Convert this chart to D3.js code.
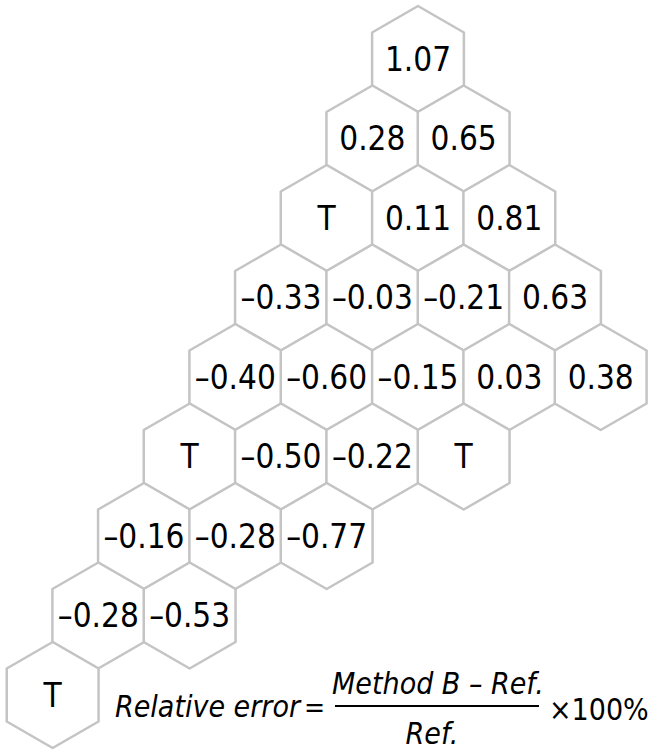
<!DOCTYPE html>
<html>
<head>
<meta charset="utf-8">
<script src="https://cdn.jsdelivr.net/npm/d3@7"></script>
<style>
  body { margin: 0; background: #fff; }
  svg { display: block; }
  .cell-label { font-family: "DejaVu Sans Condensed", "DejaVu Sans", sans-serif; font-stretch: condensed; }
  .formula { font-family: "DejaVu Sans Condensed", "DejaVu Sans", sans-serif; font-stretch: condensed; font-style: italic; }
</style>
</head>
<body>
<script>
// one array per row of the triangle, top to bottom ("T" marks a T cell)
var row1 = [1.07];
var row2 = [0.28, 0.65];
var row3 = ["T", 0.11, 0.81];
var row4 = [-0.33, -0.03, -0.21, 0.63];
var row5 = [-0.40, -0.60, -0.15, 0.03, 0.38];
var row6 = ["T", -0.50, -0.22, "T"];
var row7 = [-0.16, -0.28, -0.77];
var row8 = [-0.28, -0.53];
var row9 = ["T"];

var rows = [row1, row2, row3, row4, row5, row6, row7, row8, row9];

var width = 655, height = 755;
var R = 53;                       // hexagon radius (pointy top)
var hexW = Math.sqrt(3) * R;

// flatten rows into cells
var cells = [];
rows.forEach(function(r, i){
	r.forEach(function(v, j){
		cells.push({row: i, col: j, value: v});
	});
});

// x runs along the columns, each row shifted half a cell to the left
var xScale = d3.scaleLinear()
	.domain([0, 1])
	.range([418, 418 + hexW * 0.995]);

var yScale = d3.scaleLinear()
	.domain([0, 1])
	.range([59, 59 + 1.5 * R]);

var fmt = d3.formatLocale({decimal: ".", thousands: ",", grouping: [3], currency: ["", ""], minus: "\u2013"}).format(".2f");

var hexPts = d3.range(6).map(function(k){
	var a = Math.PI / 180 * (60 * k - 90);
	return [R * Math.cos(a), R * Math.sin(a)];
});
var hexPath = "M" + hexPts.map(function(p){ return p.join(","); }).join("L") + "Z";

var svg = d3.select("body").append("svg")
	.attr("width", width)
	.attr("height", height);

var g = svg.append("g")
	.selectAll("g")
	.data(cells)
	.enter().append("g")
	.attr("transform", function(d){
		return "translate(" + xScale(d.col - d.row / 2) + "," + yScale(d.row) + ")";
	});

g.append("path")
	.attr("d", hexPath)
	.attr("fill", "#fff")
	.attr("stroke", "#c4c4c4")
	.attr("stroke-width", 2.5)
	.attr("stroke-linejoin", "round");

g.append("text")
	.attr("class", "cell-label")
	.attr("text-anchor", "middle")
	.attr("dy", "0.36em")
	.attr("font-size", 33)
	.attr("fill", "#000")
	.text(function(d){ return d.value === "T" ? "T" : fmt(d.value); });

// formula under the triangle
var f = svg.append("g").attr("class", "formula").attr("font-size", 30).attr("fill", "#000");

f.append("text")
	.attr("x", 115).attr("y", 717)
	.text("Relative error");

f.append("text")
	.attr("x", 304).attr("y", 717)
	.attr("font-size", 28)
	.style("font-style", "normal")
	.text("=");

f.append("line")
	.attr("x1", 335).attr("x2", 539)
	.attr("y1", 706).attr("y2", 706)
	.attr("stroke", "#000")
	.attr("stroke-width", 2);

f.append("text")
	.attr("x", 438).attr("y", 694)
	.attr("text-anchor", "middle")
	.text("Method B \u2013 Ref.");

f.append("text")
	.attr("x", 432).attr("y", 744)
	.attr("text-anchor", "middle")
	.text("Ref.");

f.append("text")
	.attr("x", 549).attr("y", 720)
	.style("font-style", "normal")
	.text("\u00d7100%");
</script>
</body>
</html>
